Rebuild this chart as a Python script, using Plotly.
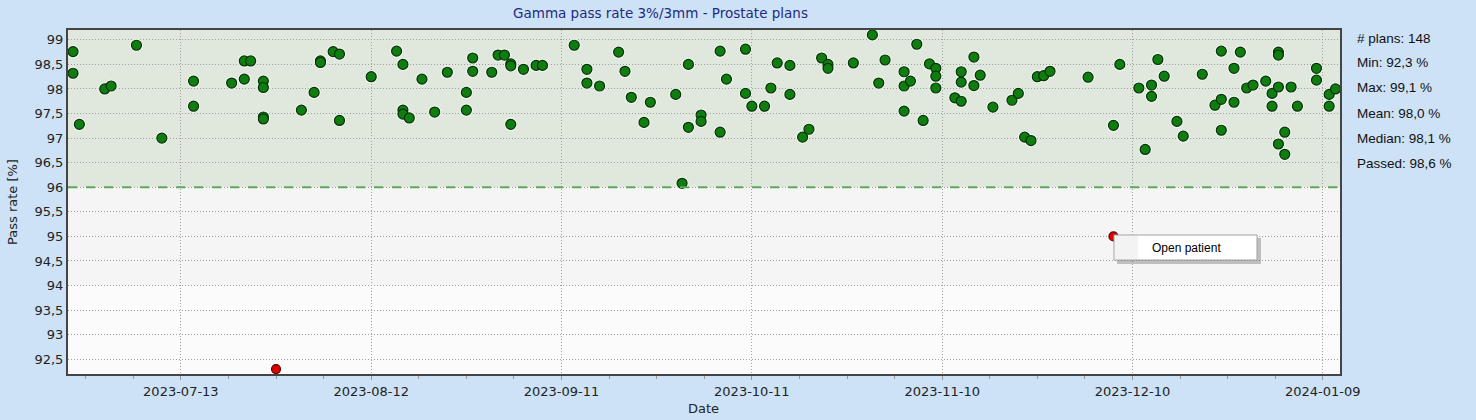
import plotly.graph_objects as go

# ---------------- data ----------------
plan_dates = [
    "2023-06-26", "2023-06-26", "2023-06-27", "2023-07-01", "2023-07-02", "2023-07-06", "2023-07-10",
    "2023-07-15", "2023-07-15", "2023-07-21", "2023-07-23", "2023-07-23", "2023-07-24",
    "2023-07-26", "2023-07-26", "2023-07-26", "2023-07-26", "2023-07-28",
    "2023-08-01", "2023-08-03", "2023-08-04", "2023-08-04", "2023-08-06", "2023-08-07", "2023-08-07",
    "2023-08-12", "2023-08-16", "2023-08-17", "2023-08-17", "2023-08-17", "2023-08-18", "2023-08-20",
    "2023-08-22", "2023-08-24", "2023-08-27", "2023-08-27", "2023-08-28", "2023-08-28", "2023-08-31",
    "2023-09-01", "2023-09-02", "2023-09-03", "2023-09-03", "2023-09-03", "2023-09-05", "2023-09-07",
    "2023-09-08", "2023-09-13", "2023-09-15", "2023-09-15", "2023-09-17", "2023-09-20", "2023-09-21",
    "2023-09-22", "2023-09-24", "2023-09-25", "2023-09-29", "2023-09-30",
    "2023-10-01", "2023-10-01", "2023-10-03", "2023-10-03", "2023-10-06", "2023-10-06", "2023-10-07",
    "2023-10-10", "2023-10-10", "2023-10-11", "2023-10-13", "2023-10-14", "2023-10-15", "2023-10-17",
    "2023-10-17", "2023-10-19", "2023-10-20", "2023-10-22", "2023-10-23", "2023-10-23", "2023-10-27",
    "2023-10-30", "2023-10-31",
    "2023-11-01", "2023-11-04", "2023-11-04", "2023-11-04", "2023-11-05", "2023-11-06", "2023-11-07",
    "2023-11-08", "2023-11-09", "2023-11-09", "2023-11-09", "2023-11-12", "2023-11-13", "2023-11-13",
    "2023-11-13", "2023-11-15", "2023-11-15", "2023-11-16", "2023-11-18", "2023-11-21", "2023-11-22",
    "2023-11-23", "2023-11-24", "2023-11-25", "2023-11-26", "2023-11-27",
    "2023-12-03", "2023-12-07", "2023-12-07", "2023-12-08", "2023-12-11", "2023-12-12", "2023-12-13",
    "2023-12-13", "2023-12-14", "2023-12-15", "2023-12-17", "2023-12-18", "2023-12-21", "2023-12-23",
    "2023-12-24", "2023-12-24", "2023-12-24", "2023-12-26", "2023-12-26", "2023-12-27", "2023-12-28",
    "2023-12-29", "2023-12-31",
    "2024-01-01", "2024-01-01", "2024-01-02", "2024-01-02", "2024-01-02", "2024-01-02", "2024-01-03",
    "2024-01-03", "2024-01-04", "2024-01-05", "2024-01-08", "2024-01-08", "2024-01-10", "2024-01-10",
    "2024-01-11",
]
pass_rate = [
    98.76, 98.32, 97.28, 98.00, 98.06, 98.89, 97.00,
    98.16, 97.65, 98.12, 98.57, 98.20, 98.57,
    98.16, 98.03, 97.43, 97.39, 92.30,
    97.57, 97.93, 98.57, 98.54, 98.76, 98.71, 97.36,
    98.25, 98.77, 98.50, 97.57, 97.49, 97.41, 98.20,
    97.53, 98.34, 97.93, 97.57, 98.63, 98.36, 98.34,
    98.69, 98.69, 98.51, 98.47, 97.28, 98.40, 98.48,
    98.48, 98.89, 98.40, 98.12, 98.06, 98.75, 98.36,
    97.83, 97.32, 97.73, 97.89, 96.08,
    98.50, 97.22, 97.47, 97.34, 98.77, 97.12, 98.20,
    98.81, 97.91, 97.65, 97.65, 98.02, 98.53, 98.48,
    97.89, 97.02, 97.18, 98.63, 98.50, 98.42, 98.53,
    99.10, 98.12,
    98.59, 98.35, 98.06, 97.55, 98.16, 98.91, 97.36,
    98.51, 98.42, 98.26, 98.02, 97.82, 98.35, 98.14,
    97.75, 98.65, 98.07, 98.28, 97.63, 97.77, 97.91,
    97.02, 96.95, 98.25, 98.27, 98.36,
    98.24, 97.26, 95.00, 98.50, 98.02, 96.77, 98.08,
    97.85, 98.60, 98.26, 97.34, 97.04, 98.30, 97.67,
    98.77, 97.79, 97.16, 98.42, 97.73, 98.75, 98.02,
    98.08, 98.16,
    97.91, 97.65, 98.75, 98.69, 98.04, 96.88, 97.12,
    96.67, 98.04, 97.65, 98.42, 98.18, 97.89, 97.65,
    98.00,
]
threshold = 96.0

x_tick_dates = ["2023-07-13", "2023-08-12", "2023-09-11", "2023-10-11",
                "2023-11-10", "2023-12-10", "2024-01-09"]
y_tick_values = [92.5, 93.0, 93.5, 94.0, 94.5, 95.0, 95.5, 96.0, 96.5, 97.0, 97.5, 98.0, 98.5, 99.0]
y_tick_labels = ["92,5", "93", "93,5", "94", "94,5", "95", "95,5", "96", "96,5", "97", "97,5", "98", "98,5", "99"]

stat_labels = ["# plans: 148", "Min: 92,3 %", "Max: 99,1 %", "Mean: 98,0 %", "Median: 98,1 %", "Passed: 98,6 %"]

title_text = "Gamma pass rate 3%/3mm - Prostate plans"
menu_text = "Open patient"

# ---------------- layout helpers ----------------
W, H = 1476, 420
L, R, T, B = 68, 1340, 30, 374


def px(xp):
    return (xp - L) / (R - L)


def py(yp):
    return (B - yp) / (B - T)


passed_x = [d for d, v in zip(plan_dates, pass_rate) if v >= threshold]
passed_y = [v for v in pass_rate if v >= threshold]
failed_x = [d for d, v in zip(plan_dates, pass_rate) if v < threshold]
failed_y = [v for v in pass_rate if v < threshold]

fig = go.Figure()

# soft halo
fig.add_trace(go.Scatter(
    x=plan_dates, y=pass_rate, mode="markers",
    marker=dict(size=13, color="rgba(255,255,255,0.7)", line=dict(width=0)),
    hoverinfo="skip", showlegend=False, cliponaxis=False))
fig.add_trace(go.Scatter(
    x=passed_x, y=passed_y, mode="markers",
    marker=dict(size=10, color="#0f7d0f", line=dict(width=1.2, color="#063306")),
    showlegend=False, cliponaxis=False))
fig.add_trace(go.Scatter(
    x=failed_x, y=failed_y, mode="markers",
    marker=dict(size=9, color="#e00000", line=dict(width=1.2, color="#5a0000")),
    showlegend=False, cliponaxis=False))

FONT = "DejaVu Sans"

shapes = [
    # zone backgrounds
    dict(type="rect", xref="x domain", yref="y", x0=0, x1=1, y0=threshold, y1=99.2,
         fillcolor="#e0e8de", line=dict(width=0), layer="below"),
    dict(type="rect", xref="x domain", yref="y", x0=0, x1=1, y0=94.0, y1=threshold,
         fillcolor="#f5f5f5", line=dict(width=0), layer="below"),
    dict(type="rect", xref="x domain", yref="y", x0=0, x1=1, y0=92.2, y1=94.0,
         fillcolor="#fbfbfb", line=dict(width=0), layer="below"),
    # threshold line
    dict(type="line", xref="x domain", yref="y", x0=0, x1=1, y0=threshold, y1=threshold,
         line=dict(color="#5fa85f", width=2, dash="dash"), layer="above"),
    # context menu shadow
    dict(type="rect", xref="paper", yref="paper", x0=px(1117), x1=px(1261), y0=py(264), y1=py(238),
         fillcolor="rgba(0,0,0,0.22)", line=dict(width=0), layer="above"),
    # context menu
    dict(type="rect", xref="paper", yref="paper", x0=px(1114), x1=px(1257), y0=py(260), y1=py(235),
         fillcolor="#ffffff", line=dict(color="#a0a0a0", width=1), layer="above"),
    dict(type="rect", xref="paper", yref="paper", x0=px(1115), x1=px(1138), y0=py(259), y1=py(236),
         fillcolor="#f3f3f3", line=dict(width=0), layer="above"),
]

annotations = [
    dict(text=title_text, xref="paper", yref="paper", x=px(660), y=py(13), showarrow=False,
         xanchor="center", yanchor="middle", font=dict(family=FONT, size=13.5, color="#232a80")),
    dict(text="Date", xref="paper", yref="paper", x=px(703), y=py(408), showarrow=False,
         xanchor="center", yanchor="middle", font=dict(family=FONT, size=13, color="#222222")),
    dict(text="Pass rate [%]", xref="paper", yref="paper", x=px(12), y=py(202), showarrow=False,
         textangle=-90, xanchor="center", yanchor="middle", font=dict(family=FONT, size=13, color="#222222")),
    dict(text=menu_text, xref="paper", yref="paper", x=px(1150), y=py(248), showarrow=False,
         xanchor="left", yanchor="middle", font=dict(family="Liberation Sans", size=12, color="#000000")),
]
for i, s in enumerate(stat_labels):
    annotations.append(dict(text=s, xref="paper", yref="paper", x=px(1355), y=py(38 + 25 * i),
                            showarrow=False, xanchor="left", yanchor="middle",
                            font=dict(family="Liberation Sans", size=13.5, color="#111111")))

fig.update_layout(
    width=W, height=H,
    margin=dict(l=L, r=W - R, t=T, b=H - B),
    paper_bgcolor="#cde2f6",
    plot_bgcolor="#f8f8f8",
    shapes=shapes,
    annotations=annotations,
    font=dict(family=FONT, size=13, color="#222222"),
    showlegend=False,
)
fig.update_xaxes(
    type="date", range=["2023-06-25 05:00", "2024-01-11 17:00"],
    tickmode="array", tickvals=x_tick_dates, ticktext=x_tick_dates,
    showgrid=True, gridcolor="#a0a0a0", griddash="1px,2px", gridwidth=1,
    showline=True, linecolor="#444444", linewidth=2, mirror=True,
    ticks="outside", ticklen=4, tickcolor="#999999",
    minor=dict(ticks="outside", ticklen=3, tickcolor="#999999", dtick=7.5 * 86400000,
               tick0="2023-07-13", showgrid=False),
    tickfont=dict(family=FONT, size=13, color="#222222"),
    zeroline=False,
)
fig.update_yaxes(
    range=[92.2, 99.2],
    tickmode="array", tickvals=y_tick_values, ticktext=y_tick_labels,
    showgrid=True, gridcolor="#a0a0a0", griddash="1px,2px", gridwidth=1,
    showline=True, linecolor="#444444", linewidth=2, mirror=True,
    ticks="", tickfont=dict(family=FONT, size=13, color="#222222"),
    zeroline=False,
)

fig.write_html("out.html")
